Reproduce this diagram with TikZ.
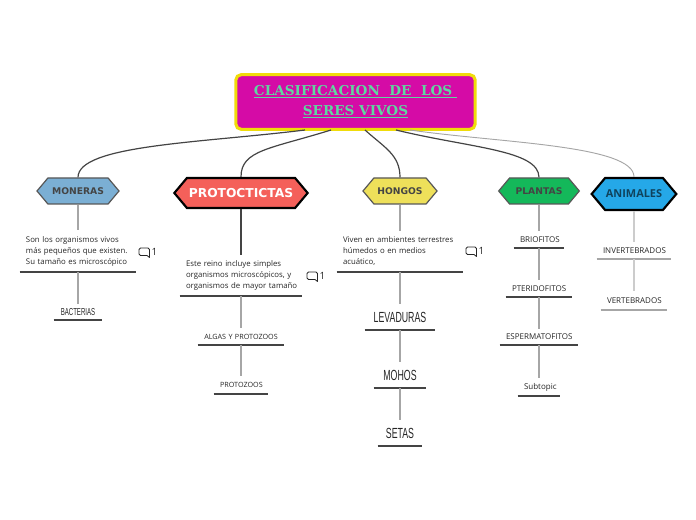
\documentclass[tikz,border=0pt]{standalone}
\usepackage{fontspec}
\setmainfont{Open Sans}
\newfontfamily\hexf{DejaVu Sans}
\newfontfamily\titlef{DejaVu Serif}
\newfontfamily\handf[FakeStretch=0.6]{Liberation Sans}
\usetikzlibrary{shapes.symbols,calc}
\definecolor{magt}{HTML}{D50BA6}
\definecolor{yelb}{HTML}{F0DC0A}
\definecolor{grnt}{HTML}{5FD8A0}
\definecolor{cmon}{HTML}{7BAFD4}
\definecolor{cpro}{HTML}{F4605A}
\definecolor{chon}{HTML}{EEE05A}
\definecolor{cpla}{HTML}{14B85A}
\definecolor{cani}{HTML}{25A8E8}
\definecolor{dk}{HTML}{444444}
\definecolor{gy}{HTML}{A6A6A6}
\definecolor{lg}{HTML}{CCCCCC}
\tikzset{
  x=0.75pt,y=-0.75pt,
  hexbox/.style={shape=signal,signal to=east and west,signal pointer angle=100,inner sep=0pt,align=center},
  hexlight/.style={hexbox,draw=dk!90,line width=0.9pt,text=dk,font=\hexf\bfseries\fontsize{6.9}{8}\selectfont},
  hexheavy/.style={hexbox,draw=black,line width=1.6pt},
  topicbase/.style={inner ysep=0pt,inner xsep=4.5pt,text=black!85},
  bodyleft/.style={topicbase,align=left,font=\fontsize{5.85}{8.25}\selectfont},
  bodyone/.style={topicbase,align=center,font=\fontsize{6}{8}\selectfont},
  small/.style={topicbase,align=center,font=\fontsize{5.4}{7}\selectfont},
  hand/.style={topicbase,align=center,font=\handf\fontsize{11}{13}\selectfont},
  handsm/.style={topicbase,align=center,font=\handf\fontsize{7.6}{9}\selectfont},
  bar/.style={dk,line width=1.4pt},
  barlight/.style={gy,line width=1.4pt},
  stem/.style={gy,line width=0.8pt},
  stemdark/.style={dk,line width=0.9pt},
  stemlight/.style={lg,line width=0.9pt},
  trunk/.style={dk,line width=0.9pt},
  trunklight/.style={gy,line width=0.7pt},
  cmt/.style={black!85,line width=0.6pt,line join=round},
  cnum/.style={inner sep=0pt,text=black!85,font=\fontsize{7.5}{8}\selectfont},
}
% name, style, bar style, x1, x2, ytop, ybar, text
\newcommand\tpc[8]{%
  \pgfmathsetmacro\tw{(#5-#4)*0.75}%
  \pgfmathsetmacro\th{(#7-#6)*0.75}%
  \node[#2,minimum width=\tw pt,minimum height=\th pt,text width={\tw pt-9pt}] (#1) at ({(#4+#5)/2},{(#6+#7)/2}) {\raisebox{0.8pt}{\parbox[c]{\dimexpr\tw pt-9pt}{#8}}};
  \draw[#3] (#1.south west) -- (#1.south east);}
% icon at x,y top-left
\newcommand\cicon[3]{%
  \draw[cmt] (#1+1.5,#2) -- (#1+9,#2) to[bend left=30] (#1+10.5,#2+1.5) -- (#1+10.5,#2+9.5) -- (#1+8,#2+7.5) -- (#1+1.5,#2+7.5) to[bend left=30] (#1,#2+6) -- (#1,#2+1.5) to[bend left=30] cycle;
  \node[cnum] (#3) at (#1+15.5,#2+4) {1};}
\begin{document}
\begin{tikzpicture}
\useasboundingbox (0,0) rectangle (696,520);
% title
\node[draw=yelb,line width=2.3pt,fill=magt,rounded corners=4pt,minimum width=179.5pt,minimum height=41pt,inner sep=0pt,
  align=center,text=grnt,font=\titlef\bfseries\fontsize{10.2}{15}\selectfont] (title) at (355.5,102)
  {\underline{CLASIFICACION\ \ DE\ \ LOS\ }\\\underline{SERES VIVOS}};
\coordinate (t1) at (305,130);
\coordinate (t2) at (331,130);
\coordinate (t3) at (365,130);
\coordinate (t4) at (396,130);
\coordinate (t5) at (410,130);
% hexes
\node[hexlight,fill=cmon,minimum width=61.5pt,minimum height=19.5pt] (mon) at (78,191) {MONERAS};
\node[hexheavy,fill=cpro,minimum width=100pt,minimum height=22.5pt,text=white,font=\hexf\bfseries\fontsize{9.2}{11}\selectfont] (pro) at (241,193) {PROTOCTICTAS};
\node[hexlight,fill=chon,minimum width=55.5pt,minimum height=19.5pt] (hon) at (400,191) {HONGOS};
\node[hexlight,fill=cpla,minimum width=60.5pt,minimum height=19.5pt] (pla) at (539,191) {PLANTAS};
\node[hexheavy,fill=cani,minimum width=63.5pt,minimum height=24pt,text=black!60!cani,font=\bfseries\fontsize{8.2}{10}\selectfont] (ani) at (634,194) {ANIMALES};
% curves from title
\draw[trunk] (t1) .. controls (200,143) and (78,145) .. (mon.north);
\draw[trunk] (t2) .. controls (270,149) and (241,150) .. (pro.north);
\draw[trunk] (t3) .. controls (385,148) and (400,155) .. (hon.north);
\draw[trunk] (t4) .. controls (470,148) and (539,150) .. (pla.north);
\draw[trunklight] (t5) .. controls (500,143) and (634,145) .. (ani.north);
% moneras branch
\tpc{m1}{bodyleft}{bar}{20}{136}{230}{272}{\mbox{Son los organismos vivos}\\\mbox{más pequeños que existen.}\\\mbox{Su tamaño es microscópico}}
\tpc{m2}{handsm}{bar}{54}{102}{304}{320}{\centering BACTERIAS}
\draw[stem] (mon.south) -- (m1.north);
\draw[stem] (m1.south) -- (m2.north);
\cicon{139}{248}{mc}
% protoctictas branch
\tpc{p1}{bodyleft}{bar}{180}{302}{255}{296}{\mbox{Este reino incluye simples}\\\mbox{organismos microscópicos, y}\\\mbox{organismos de mayor tamaño}}
\tpc{p2}{small}{bar}{198}{284}{328}{345}{\centering ALGAS Y PROTOZOOS}
\tpc{p3}{small}{bar}{214}{268}{376}{394}{\centering PROTOZOOS}
\draw[stemdark] (pro.south) -- (p1.north);
\draw[stem] (p1.south) -- (p2.north);
\draw[stem] (p2.south) -- (p3.north);
\cicon{307}{272}{pc}
% hongos branch
\tpc{h1}{bodyleft}{bar}{337}{463}{231}{272}{\mbox{Viven en ambientes terrestres}\\\mbox{húmedos o en medios}\\\mbox{acuático,}}
\tpc{h2}{hand}{bar}{365}{435}{304}{330}{\centering LEVADURAS}
\tpc{h3}{hand}{bar}{374}{426}{362}{388}{\centering MOHOS}
\tpc{h4}{hand}{bar}{378}{422}{420}{446}{\centering SETAS}
\draw[stem] (hon.south) -- (h1.north);
\draw[stem] (h1.south) -- (h2.north);
\draw[stem] (h2.south) -- (h3.north);
\draw[stem] (h3.south) -- (h4.north);
\cicon{466}{247}{hc}
% plantas branch
\tpc{l1}{bodyone}{bar}{514}{564}{231}{248}{\centering BRIOFITOS}
\tpc{l2}{bodyone}{bar}{506}{572}{280}{297}{\centering PTERIDOFITOS}
\tpc{l3}{bodyone}{bar}{500}{578}{329}{345}{\centering ESPERMATOFITOS}
\tpc{l4}{bodyone}{bar}{518}{560}{378}{396}{\centering Subtopic}
\draw[stem] (pla.south) -- (l1.north);
\draw[stem] (l1.south) -- (l2.north);
\draw[stem] (l2.south) -- (l3.north);
\draw[stem] (l3.south) -- (l4.north);
% animales branch
\tpc{a1}{bodyone}{barlight}{597}{671}{242}{259}{\centering INVERTEBRADOS}
\tpc{a2}{bodyone}{barlight}{601}{667}{291}{310}{\centering VERTEBRADOS}
\draw[stemlight] (ani.south) -- (a1.north);
\draw[stemlight] (a1.south) -- (a2.north);
\end{tikzpicture}
\end{document}
